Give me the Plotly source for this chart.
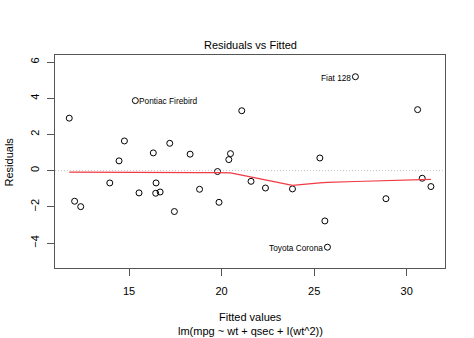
import plotly.graph_objects as go

# Fitted values and residuals
fitted = [11.77, 12.06, 12.39, 13.96, 14.46, 14.75, 15.34, 15.54, 16.31, 16.46,
          16.44, 16.68, 17.20, 17.45, 18.30, 18.81, 19.78, 19.86, 20.39, 20.48,
          21.09, 21.59, 22.37, 23.83, 25.31, 25.58, 25.72, 27.23, 28.88, 30.59,
          30.84, 31.31]
residuals = [2.90, -1.69, -1.99, -0.68, 0.54, 1.64, 3.87, -1.23, 0.98, -0.68,
             -1.25, -1.18, 1.51, -2.26, 0.91, -1.03, -0.05, -1.75, 0.61, 0.94,
             3.31, -0.59, -0.96, -1.01, 0.70, -2.78, -4.23, 5.19, -1.55, 3.37,
             -0.42, -0.88]

# Smoother (lowess) curve
smooth_x = [11.77, 13.96, 15.54, 17.20, 18.81, 19.78, 20.48, 21.09, 21.59, 22.37,
            23.83, 25.31, 25.72, 27.23, 28.88, 30.59, 31.31]
smooth_y = [-0.08, -0.10, -0.10, -0.11, -0.11, -0.11, -0.12, -0.25, -0.35, -0.51,
            -0.81, -0.68, -0.65, -0.60, -0.55, -0.50, -0.48]

# Labelled points
label_names = ["Pontiac Firebird", "Fiat 128", "Toyota Corona"]
label_x = [15.34, 27.23, 25.72]
label_y = [3.87, 5.19, -4.23]
label_side = ["right", "left", "left"]

x_ticks = [15, 20, 25, 30]
y_ticks = [-4, -2, 0, 2, 4, 6]

title_text = "Residuals vs Fitted"
x_title = "Fitted values"
sub_title = "lm(mpg ~ wt + qsec + I(wt^2))"
y_title = "Residuals"

FONT = "Liberation Sans, Arial, sans-serif"
AXCOL = "#555555"

fig = go.Figure()
fig.add_trace(go.Scatter(
    x=fitted, y=residuals, mode="markers",
    marker=dict(symbol="circle-open", size=6, color="black", line=dict(width=1)),
    hoverinfo="skip", showlegend=False))
fig.add_trace(go.Scatter(
    x=smooth_x, y=smooth_y, mode="lines",
    line=dict(color="#f03a44", width=1.2),
    hoverinfo="skip", showlegend=False))

shapes = [dict(type="line", xref="paper", yref="y", x0=0, x1=1, y0=0, y1=0,
               line=dict(color="#c4c4c4", width=1, dash="1px,2px"), layer="below")]

annotations = []
for n, lx, ly, side in zip(label_names, label_x, label_y, label_side):
    if side == "right":
        annotations.append(dict(x=lx, y=ly, xref="x", yref="y", text=n, showarrow=False,
                                xanchor="left", xshift=2, yanchor="middle",
                                font=dict(family=FONT, size=8.3, color="black")))
    else:
        annotations.append(dict(x=lx, y=ly, xref="x", yref="y", text=n, showarrow=False,
                                xanchor="right", xshift=-2, yanchor="middle", yshift=-1,
                                font=dict(family=FONT, size=8.3, color="black")))

annotations += [
    dict(x=0.5, y=1.047, xref="paper", yref="paper", text=title_text, showarrow=False,
         xanchor="center", yanchor="middle", font=dict(family=FONT, size=11, color="black")),
    dict(x=0.5, y=-0.229, xref="paper", yref="paper", text=x_title, showarrow=False,
         xanchor="center", yanchor="middle", font=dict(family=FONT, size=11, color="black")),
    dict(x=0.5, y=-0.296, xref="paper", yref="paper", text=sub_title, showarrow=False,
         xanchor="center", yanchor="middle", font=dict(family=FONT, size=11, color="black")),
    dict(x=-0.118, y=0.5, xref="paper", yref="paper", text=y_title, showarrow=False,
         xanchor="center", yanchor="middle", textangle=-90,
         font=dict(family=FONT, size=11, color="black")),
]

fig.update_layout(
    width=474, height=338,
    margin=dict(l=55, r=29, t=55, b=70),
    paper_bgcolor="white", plot_bgcolor="white",
    font=dict(family=FONT, size=11, color="black"),
    shapes=shapes, annotations=annotations,
    xaxis=dict(range=[11.0, 32.07], tickvals=x_ticks, ticks="outside", ticklen=7,
               tickcolor=AXCOL, showgrid=False, zeroline=False, showline=True,
               linecolor=AXCOL, linewidth=1, mirror=True, ticklabelstandoff=6,
               tickfont=dict(family=FONT, size=11, color="black")),
    yaxis=dict(range=[-5.38, 6.39], tickvals=y_ticks, ticks="outside", ticklen=7,
               tickcolor=AXCOL, showgrid=False, zeroline=False, showline=True,
               linecolor=AXCOL, linewidth=1, mirror=True, tickangle=-90,
               ticklabelstandoff=4,
               tickfont=dict(family=FONT, size=11, color="black")),
)

fig.write_html("out.html")
